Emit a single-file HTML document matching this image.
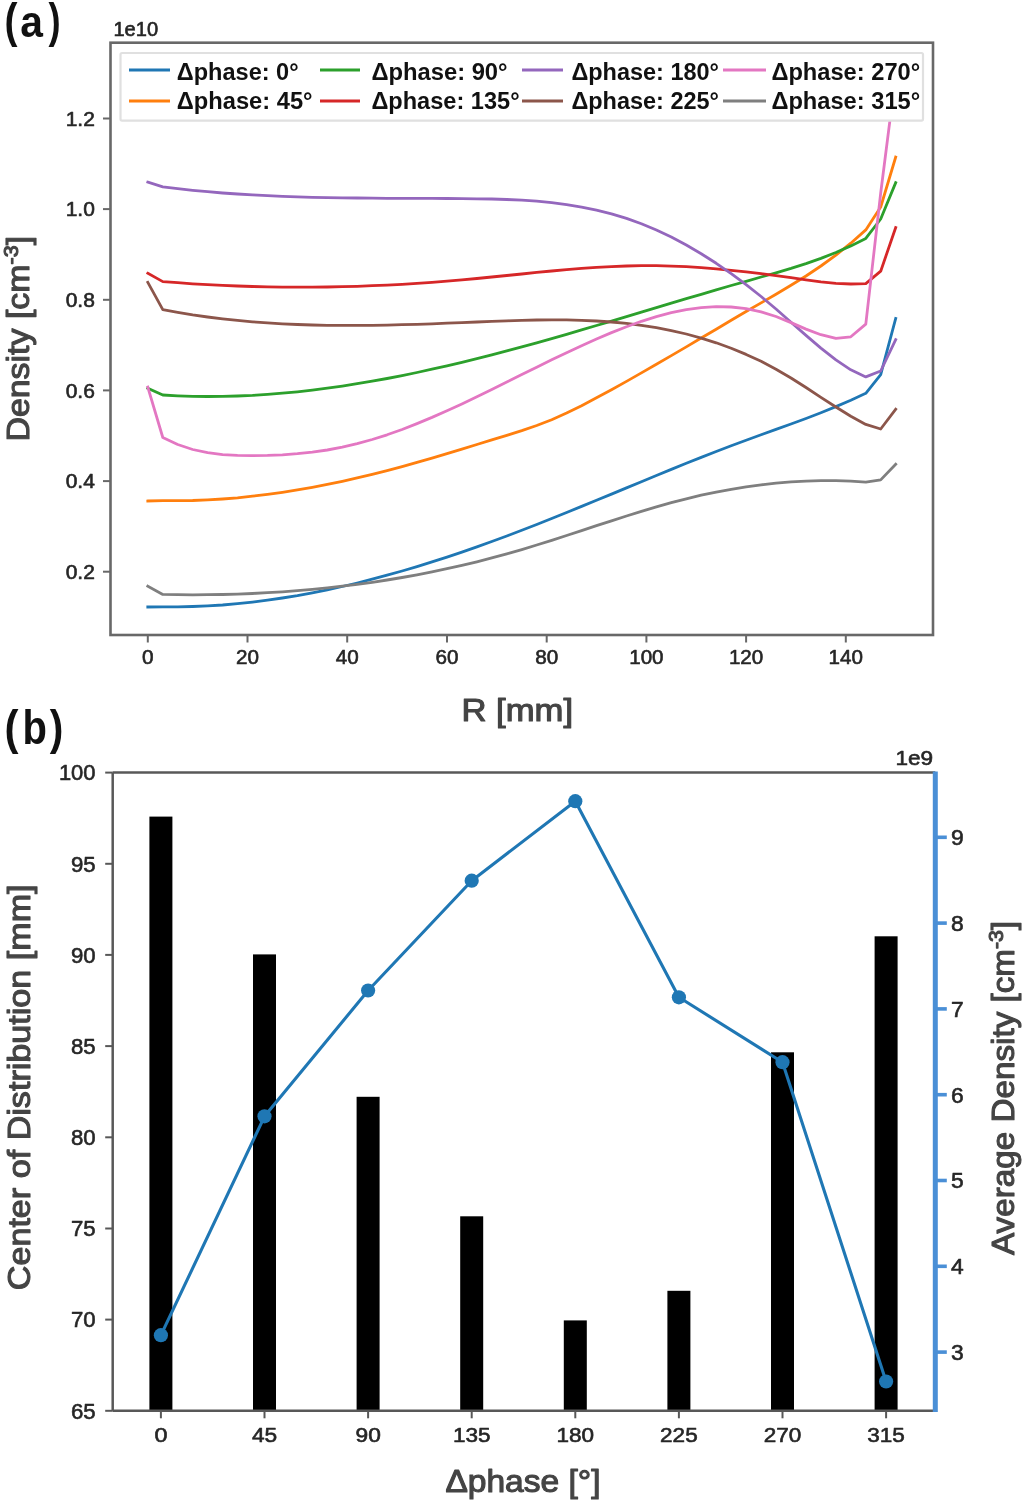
<!DOCTYPE html>
<html><head><meta charset="utf-8"><title>Figure</title>
<style>html,body{margin:0;padding:0;background:#fff;}body{width:1025px;height:1501px;position:relative;overflow:hidden;font-family:"Liberation Sans", sans-serif;}</style>
</head><body>
<svg width="1025" height="1501" viewBox="0 0 1025 1501" style="position:absolute;left:0;top:0;filter:blur(0.45px)" font-family='"Liberation Sans", sans-serif'>
<rect x="0" y="0" width="1025" height="1501" fill="#ffffff"/>
<defs><clipPath id="ca"><rect x="110.5" y="42.7" width="822.5" height="592.3"/></clipPath></defs>
<g clip-path="url(#ca)" fill="none" stroke-width="2.8" stroke-linejoin="round" stroke-linecap="square">
<polyline points="147.8,607.0 162.8,606.8 177.7,606.8 192.7,606.5 207.6,605.9 222.6,605.0 237.5,603.7 252.5,602.1 267.5,600.2 282.4,598.0 297.4,595.6 312.3,592.8 327.3,589.8 342.3,586.5 357.2,583.0 372.2,579.2 387.1,575.2 402.1,571.0 417.0,566.6 432.0,561.9 447.0,557.1 461.9,552.1 476.9,546.9 491.8,541.5 506.8,536.0 521.8,530.3 536.7,524.5 551.7,518.5 566.6,512.5 581.6,506.4 596.5,500.3 611.5,494.1 626.5,487.9 641.4,481.7 656.4,475.5 671.3,469.4 686.3,463.3 701.2,457.4 716.2,451.5 731.2,445.8 746.1,440.2 761.1,434.8 776.0,429.4 791.0,424.0 806.0,418.5 820.9,412.7 835.9,406.6 850.8,400.2 865.8,393.3 880.7,374.6 895.7,318.4" stroke="#1f77b4"/>
<polyline points="147.8,501.0 162.8,500.6 177.7,500.7 192.7,500.5 207.6,499.9 222.6,499.0 237.5,497.8 252.5,496.2 267.5,494.4 282.4,492.3 297.4,489.9 312.3,487.3 327.3,484.4 342.3,481.3 357.2,477.9 372.2,474.3 387.1,470.6 402.1,466.6 417.0,462.4 432.0,458.1 447.0,453.6 461.9,449.1 476.9,444.5 491.8,439.9 506.8,435.3 521.8,430.6 536.7,425.5 551.7,419.7 566.6,413.0 581.6,405.7 596.5,397.8 611.5,389.7 626.5,381.4 641.4,372.9 656.4,364.3 671.3,355.6 686.3,346.9 701.2,338.0 716.2,329.2 731.2,320.3 746.1,311.5 761.1,302.9 776.0,294.2 791.0,285.3 806.0,276.0 820.9,266.0 835.9,255.1 850.8,243.2 865.8,229.9 880.7,207.0 895.7,157.1" stroke="#ff7f0e"/>
<polyline points="147.8,388.2 162.8,395.0 177.7,395.8 192.7,396.3 207.6,396.5 222.6,396.4 237.5,396.0 252.5,395.4 267.5,394.4 282.4,393.2 297.4,391.8 312.3,390.1 327.3,388.2 342.3,386.1 357.2,383.7 372.2,381.2 387.1,378.5 402.1,375.6 417.0,372.5 432.0,369.2 447.0,365.8 461.9,362.3 476.9,358.6 491.8,354.8 506.8,350.9 521.8,346.9 536.7,342.8 551.7,338.6 566.6,334.3 581.6,329.9 596.5,325.5 611.5,321.1 626.5,316.6 641.4,312.2 656.4,307.7 671.3,303.2 686.3,298.7 701.2,294.3 716.2,289.9 731.2,285.5 746.1,281.3 761.1,277.0 776.0,272.8 791.0,268.4 806.0,263.6 820.9,258.4 835.9,252.5 850.8,245.9 865.8,238.4 880.7,219.0 895.7,182.7" stroke="#2ca02c"/>
<polyline points="147.8,273.3 162.8,281.6 177.7,282.7 192.7,283.8 207.6,284.6 222.6,285.4 237.5,286.0 252.5,286.5 267.5,286.8 282.4,287.1 297.4,287.2 312.3,287.1 327.3,287.0 342.3,286.7 357.2,286.3 372.2,285.7 387.1,285.1 402.1,284.3 417.0,283.4 432.0,282.3 447.0,281.2 461.9,279.9 476.9,278.5 491.8,277.0 506.8,275.5 521.8,274.0 536.7,272.4 551.7,271.0 566.6,269.7 581.6,268.4 596.5,267.4 611.5,266.6 626.5,266.0 641.4,265.7 656.4,265.7 671.3,266.1 686.3,266.7 701.2,267.6 716.2,268.8 731.2,270.3 746.1,271.9 761.1,273.7 776.0,275.6 791.0,277.7 806.0,279.9 820.9,281.8 835.9,283.3 850.8,284.0 865.8,283.6 880.7,271.2 895.7,227.5" stroke="#d62728"/>
<polyline points="147.8,182.2 162.8,186.9 177.7,188.7 192.7,190.3 207.6,191.7 222.6,193.0 237.5,194.0 252.5,194.9 267.5,195.7 282.4,196.3 297.4,196.9 312.3,197.3 327.3,197.6 342.3,197.9 357.2,198.0 372.2,198.2 387.1,198.3 402.1,198.3 417.0,198.4 432.0,198.4 447.0,198.5 461.9,198.6 476.9,198.8 491.8,199.0 506.8,199.5 521.8,200.2 536.7,201.2 551.7,202.7 566.6,204.6 581.6,207.1 596.5,210.1 611.5,213.9 626.5,218.4 641.4,223.7 656.4,230.0 671.3,237.0 686.3,245.0 701.2,253.7 716.2,263.3 731.2,273.6 746.1,284.7 761.1,296.5 776.0,309.0 791.0,322.2 806.0,335.4 820.9,348.1 835.9,359.9 850.8,369.8 865.8,376.9 880.7,371.0 895.7,339.6" stroke="#9467bd"/>
<polyline points="147.8,282.4 162.8,309.7 177.7,312.4 192.7,314.9 207.6,317.0 222.6,318.8 237.5,320.4 252.5,321.8 267.5,322.9 282.4,323.8 297.4,324.5 312.3,325.0 327.3,325.3 342.3,325.4 357.2,325.4 372.2,325.3 387.1,325.1 402.1,324.7 417.0,324.3 432.0,323.8 447.0,323.2 461.9,322.6 476.9,322.0 491.8,321.3 506.8,320.8 521.8,320.3 536.7,320.0 551.7,319.8 566.6,319.9 581.6,320.3 596.5,321.0 611.5,322.0 626.5,323.4 641.4,325.3 656.4,327.7 671.3,330.6 686.3,334.0 701.2,338.1 716.2,342.8 731.2,348.2 746.1,354.4 761.1,361.3 776.0,369.2 791.0,378.0 806.0,387.5 820.9,397.4 835.9,407.0 850.8,416.2 865.8,424.4 880.7,429.0 895.7,409.3" stroke="#8c564b"/>
<polyline points="147.8,387.1 162.8,437.5 177.7,444.5 192.7,449.5 207.6,452.7 222.6,454.6 237.5,455.4 252.5,455.6 267.5,455.4 282.4,454.8 297.4,453.7 312.3,452.1 327.3,450.0 342.3,447.2 357.2,443.7 372.2,439.5 387.1,434.8 402.1,429.5 417.0,423.6 432.0,417.4 447.0,410.8 461.9,403.9 476.9,396.8 491.8,389.5 506.8,382.1 521.8,374.6 536.7,367.2 551.7,359.8 566.6,352.7 581.6,345.7 596.5,339.0 611.5,332.6 626.5,326.7 641.4,321.3 656.4,316.6 671.3,312.7 686.3,309.7 701.2,307.6 716.2,306.7 731.2,307.0 746.1,308.7 761.1,311.8 776.0,316.5 791.0,322.6 806.0,329.1 820.9,334.7 835.9,338.4 850.8,336.8 865.8,324.1 880.7,193.0 895.7,75.0" stroke="#e377c2"/>
<polyline points="147.8,586.1 162.8,594.4 177.7,594.7 192.7,594.8 207.6,594.7 222.6,594.5 237.5,594.1 252.5,593.5 267.5,592.7 282.4,591.8 297.4,590.7 312.3,589.4 327.3,587.9 342.3,586.2 357.2,584.4 372.2,582.3 387.1,580.0 402.1,577.5 417.0,574.8 432.0,571.9 447.0,568.7 461.9,565.4 476.9,561.8 491.8,557.9 506.8,553.9 521.8,549.6 536.7,545.0 551.7,540.3 566.6,535.5 581.6,530.6 596.5,525.6 611.5,520.8 626.5,516.0 641.4,511.3 656.4,506.9 671.3,502.7 686.3,498.8 701.2,495.2 716.2,492.1 731.2,489.3 746.1,486.8 761.1,484.8 776.0,483.1 791.0,481.9 806.0,481.1 820.9,480.7 835.9,480.7 850.8,481.2 865.8,482.2 880.7,479.9 895.7,464.3" stroke="#7f7f7f"/>
</g>
<rect x="110.5" y="42.7" width="822.5" height="592.3" fill="none" stroke="#686868" stroke-width="2.6"/>
<line x1="103.0" y1="118.5" x2="110.5" y2="118.5" stroke="#686868" stroke-width="2"/>
<text x="65.7" y="125.7" font-size="20.5" fill="#262626" stroke="#262626" stroke-width="0.6" stroke-linejoin="round" textLength="29.2" lengthAdjust="spacingAndGlyphs">1.2</text>
<line x1="103.0" y1="209.1" x2="110.5" y2="209.1" stroke="#686868" stroke-width="2"/>
<text x="65.7" y="216.3" font-size="20.5" fill="#262626" stroke="#262626" stroke-width="0.6" stroke-linejoin="round" textLength="29.2" lengthAdjust="spacingAndGlyphs">1.0</text>
<line x1="103.0" y1="299.8" x2="110.5" y2="299.8" stroke="#686868" stroke-width="2"/>
<text x="65.7" y="307.0" font-size="20.5" fill="#262626" stroke="#262626" stroke-width="0.6" stroke-linejoin="round" textLength="29.2" lengthAdjust="spacingAndGlyphs">0.8</text>
<line x1="103.0" y1="390.4" x2="110.5" y2="390.4" stroke="#686868" stroke-width="2"/>
<text x="65.7" y="397.6" font-size="20.5" fill="#262626" stroke="#262626" stroke-width="0.6" stroke-linejoin="round" textLength="29.2" lengthAdjust="spacingAndGlyphs">0.6</text>
<line x1="103.0" y1="481.1" x2="110.5" y2="481.1" stroke="#686868" stroke-width="2"/>
<text x="65.7" y="488.3" font-size="20.5" fill="#262626" stroke="#262626" stroke-width="0.6" stroke-linejoin="round" textLength="29.2" lengthAdjust="spacingAndGlyphs">0.4</text>
<line x1="103.0" y1="571.7" x2="110.5" y2="571.7" stroke="#686868" stroke-width="2"/>
<text x="65.7" y="578.9" font-size="20.5" fill="#262626" stroke="#262626" stroke-width="0.6" stroke-linejoin="round" textLength="29.2" lengthAdjust="spacingAndGlyphs">0.2</text>
<line x1="147.8" y1="635.0" x2="147.8" y2="642.5" stroke="#686868" stroke-width="2"/>
<text x="142.0" y="664.0" font-size="20.5" fill="#262626" stroke="#262626" stroke-width="0.6" stroke-linejoin="round" textLength="11.6" lengthAdjust="spacingAndGlyphs">0</text>
<line x1="247.5" y1="635.0" x2="247.5" y2="642.5" stroke="#686868" stroke-width="2"/>
<text x="236.0" y="664.0" font-size="20.5" fill="#262626" stroke="#262626" stroke-width="0.6" stroke-linejoin="round" textLength="23.0" lengthAdjust="spacingAndGlyphs">20</text>
<line x1="347.2" y1="635.0" x2="347.2" y2="642.5" stroke="#686868" stroke-width="2"/>
<text x="335.7" y="664.0" font-size="20.5" fill="#262626" stroke="#262626" stroke-width="0.6" stroke-linejoin="round" textLength="23.0" lengthAdjust="spacingAndGlyphs">40</text>
<line x1="447.0" y1="635.0" x2="447.0" y2="642.5" stroke="#686868" stroke-width="2"/>
<text x="435.5" y="664.0" font-size="20.5" fill="#262626" stroke="#262626" stroke-width="0.6" stroke-linejoin="round" textLength="23.0" lengthAdjust="spacingAndGlyphs">60</text>
<line x1="546.7" y1="635.0" x2="546.7" y2="642.5" stroke="#686868" stroke-width="2"/>
<text x="535.2" y="664.0" font-size="20.5" fill="#262626" stroke="#262626" stroke-width="0.6" stroke-linejoin="round" textLength="23.0" lengthAdjust="spacingAndGlyphs">80</text>
<line x1="646.4" y1="635.0" x2="646.4" y2="642.5" stroke="#686868" stroke-width="2"/>
<text x="629.2" y="664.0" font-size="20.5" fill="#262626" stroke="#262626" stroke-width="0.6" stroke-linejoin="round" textLength="34.4" lengthAdjust="spacingAndGlyphs">100</text>
<line x1="746.1" y1="635.0" x2="746.1" y2="642.5" stroke="#686868" stroke-width="2"/>
<text x="728.9" y="664.0" font-size="20.5" fill="#262626" stroke="#262626" stroke-width="0.6" stroke-linejoin="round" textLength="34.4" lengthAdjust="spacingAndGlyphs">120</text>
<line x1="845.8" y1="635.0" x2="845.8" y2="642.5" stroke="#686868" stroke-width="2"/>
<text x="828.6" y="664.0" font-size="20.5" fill="#262626" stroke="#262626" stroke-width="0.6" stroke-linejoin="round" textLength="34.4" lengthAdjust="spacingAndGlyphs">140</text>
<text x="113.4" y="36.0" font-size="19.5" fill="#262626" stroke="#262626" stroke-width="0.6" stroke-linejoin="round" textLength="44.7" lengthAdjust="spacingAndGlyphs">1e10</text>
<text x="0" y="0" font-size="31.5" fill="#444" stroke="#444" stroke-width="1.1" stroke-linejoin="round" textLength="205.7" lengthAdjust="spacingAndGlyphs" transform="translate(29.2,441.6) rotate(-90)">Density [cm<tspan font-size="20" dy="-11">-3</tspan><tspan dy="11">]</tspan></text>
<text x="461.4" y="720.6" font-size="31.5" fill="#444" stroke="#444" stroke-width="1.1" stroke-linejoin="round" textLength="111.7" lengthAdjust="spacingAndGlyphs">R [mm]</text>
<g font-weight="bold" fill="#111">
<text x="4.5" y="37.3" font-size="48" fill="#111" textLength="13.0" lengthAdjust="spacingAndGlyphs">(</text>
<text x="20.3" y="37.3" font-size="43.5" fill="#111" textLength="22.7" lengthAdjust="spacingAndGlyphs">a</text>
<text x="48.4" y="37.3" font-size="48" fill="#111" textLength="12.1" lengthAdjust="spacingAndGlyphs">)</text>
</g>
<rect x="120.5" y="53" width="802.5" height="67.6" rx="1.5" fill="#ffffff" stroke="#e0e0e0" stroke-width="2.2"/>
<line x1="129" y1="70" x2="170" y2="70" stroke="#1f77b4" stroke-width="3"/>
<text x="176.8" y="80.0" font-size="23" fill="#111" font-weight="bold" textLength="121.8" lengthAdjust="spacingAndGlyphs">Δphase: 0°</text>
<line x1="129" y1="101" x2="170" y2="101" stroke="#ff7f0e" stroke-width="3"/>
<text x="176.8" y="108.6" font-size="23" fill="#111" font-weight="bold" textLength="135.8" lengthAdjust="spacingAndGlyphs">Δphase: 45°</text>
<line x1="320" y1="70" x2="360" y2="70" stroke="#2ca02c" stroke-width="3"/>
<text x="371.4" y="80.0" font-size="23" fill="#111" font-weight="bold" textLength="136.2" lengthAdjust="spacingAndGlyphs">Δphase: 90°</text>
<line x1="320" y1="101" x2="360" y2="101" stroke="#d62728" stroke-width="3"/>
<text x="371.4" y="108.6" font-size="23" fill="#111" font-weight="bold" textLength="148.2" lengthAdjust="spacingAndGlyphs">Δphase: 135°</text>
<line x1="522" y1="70" x2="563" y2="70" stroke="#9467bd" stroke-width="3"/>
<text x="571.4" y="80.0" font-size="23" fill="#111" font-weight="bold" textLength="147.6" lengthAdjust="spacingAndGlyphs">Δphase: 180°</text>
<line x1="522" y1="101" x2="563" y2="101" stroke="#8c564b" stroke-width="3"/>
<text x="571.4" y="108.6" font-size="23" fill="#111" font-weight="bold" textLength="147.6" lengthAdjust="spacingAndGlyphs">Δphase: 225°</text>
<line x1="723" y1="70" x2="766" y2="70" stroke="#e377c2" stroke-width="3"/>
<text x="771.4" y="80.0" font-size="23" fill="#111" font-weight="bold" textLength="148.8" lengthAdjust="spacingAndGlyphs">Δphase: 270°</text>
<line x1="723" y1="101" x2="766" y2="101" stroke="#7f7f7f" stroke-width="3"/>
<text x="771.4" y="108.6" font-size="23" fill="#111" font-weight="bold" textLength="148.8" lengthAdjust="spacingAndGlyphs">Δphase: 315°</text>
<rect x="149.4" y="816.6" width="23" height="594.2" fill="#000"/>
<rect x="253.0" y="954.4" width="23" height="456.4" fill="#000"/>
<rect x="356.6" y="1096.8" width="23" height="314.0" fill="#000"/>
<rect x="460.2" y="1216.3" width="23" height="194.5" fill="#000"/>
<rect x="563.8" y="1320.4" width="23" height="90.4" fill="#000"/>
<rect x="667.4" y="1290.8" width="23" height="120.0" fill="#000"/>
<rect x="771.0" y="1052.3" width="23" height="358.5" fill="#000"/>
<rect x="874.6" y="936.3" width="23" height="474.5" fill="#000"/>
<polyline points="160.95,1335.2 264.53999999999996,1116.3 368.13,990.5 471.71999999999997,880.7 575.31,801.2 678.9000000000001,997.3 782.49,1062.2 886.0799999999999,1381.5" fill="none" stroke="#1f77b4" stroke-width="3.1" stroke-linejoin="round"/>
<circle cx="160.9" cy="1335.2" r="7.1" fill="#1f77b4"/>
<circle cx="264.5" cy="1116.3" r="7.1" fill="#1f77b4"/>
<circle cx="368.1" cy="990.5" r="7.1" fill="#1f77b4"/>
<circle cx="471.7" cy="880.7" r="7.1" fill="#1f77b4"/>
<circle cx="575.3" cy="801.2" r="7.1" fill="#1f77b4"/>
<circle cx="678.9" cy="997.3" r="7.1" fill="#1f77b4"/>
<circle cx="782.5" cy="1062.2" r="7.1" fill="#1f77b4"/>
<circle cx="886.1" cy="1381.5" r="7.1" fill="#1f77b4"/>
<line x1="112.7" y1="772.6" x2="935.3" y2="772.6" stroke="#585858" stroke-width="2.5"/>
<line x1="112.7" y1="1410.8" x2="935.3" y2="1410.8" stroke="#585858" stroke-width="2.6"/>
<line x1="112.7" y1="772.6" x2="112.7" y2="1410.8" stroke="#585858" stroke-width="2.5"/>
<line x1="935.3" y1="771.4" x2="935.3" y2="1412.0" stroke="#4a8fd6" stroke-width="5"/>
<line x1="105.2" y1="1410.8" x2="112.7" y2="1410.8" stroke="#585858" stroke-width="2"/>
<text x="70.9" y="1418.6" font-size="22" fill="#262626" stroke="#262626" stroke-width="0.6" stroke-linejoin="round" textLength="24.7" lengthAdjust="spacingAndGlyphs">65</text>
<line x1="105.2" y1="1319.6" x2="112.7" y2="1319.6" stroke="#585858" stroke-width="2"/>
<text x="70.9" y="1327.4" font-size="22" fill="#262626" stroke="#262626" stroke-width="0.6" stroke-linejoin="round" textLength="24.7" lengthAdjust="spacingAndGlyphs">70</text>
<line x1="105.2" y1="1228.5" x2="112.7" y2="1228.5" stroke="#585858" stroke-width="2"/>
<text x="70.9" y="1236.2" font-size="22" fill="#262626" stroke="#262626" stroke-width="0.6" stroke-linejoin="round" textLength="24.7" lengthAdjust="spacingAndGlyphs">75</text>
<line x1="105.2" y1="1137.3" x2="112.7" y2="1137.3" stroke="#585858" stroke-width="2"/>
<text x="70.9" y="1145.1" font-size="22" fill="#262626" stroke="#262626" stroke-width="0.6" stroke-linejoin="round" textLength="24.7" lengthAdjust="spacingAndGlyphs">80</text>
<line x1="105.2" y1="1046.1" x2="112.7" y2="1046.1" stroke="#585858" stroke-width="2"/>
<text x="70.9" y="1053.9" font-size="22" fill="#262626" stroke="#262626" stroke-width="0.6" stroke-linejoin="round" textLength="24.7" lengthAdjust="spacingAndGlyphs">85</text>
<line x1="105.2" y1="954.9" x2="112.7" y2="954.9" stroke="#585858" stroke-width="2"/>
<text x="70.9" y="962.7" font-size="22" fill="#262626" stroke="#262626" stroke-width="0.6" stroke-linejoin="round" textLength="24.7" lengthAdjust="spacingAndGlyphs">90</text>
<line x1="105.2" y1="863.8" x2="112.7" y2="863.8" stroke="#585858" stroke-width="2"/>
<text x="70.9" y="871.6" font-size="22" fill="#262626" stroke="#262626" stroke-width="0.6" stroke-linejoin="round" textLength="24.7" lengthAdjust="spacingAndGlyphs">95</text>
<line x1="105.2" y1="772.6" x2="112.7" y2="772.6" stroke="#585858" stroke-width="2"/>
<text x="58.9" y="780.4" font-size="22" fill="#262626" stroke="#262626" stroke-width="0.6" stroke-linejoin="round" textLength="36.7" lengthAdjust="spacingAndGlyphs">100</text>
<line x1="935.3" y1="1352.1" x2="946.8" y2="1352.1" stroke="#4a8fd6" stroke-width="3.6"/>
<text x="950.9" y="1359.9" font-size="22" fill="#262626" stroke="#262626" stroke-width="0.6" stroke-linejoin="round" textLength="12.7" lengthAdjust="spacingAndGlyphs">3</text>
<line x1="935.3" y1="1266.3" x2="946.8" y2="1266.3" stroke="#4a8fd6" stroke-width="3.6"/>
<text x="950.9" y="1274.1" font-size="22" fill="#262626" stroke="#262626" stroke-width="0.6" stroke-linejoin="round" textLength="12.7" lengthAdjust="spacingAndGlyphs">4</text>
<line x1="935.3" y1="1180.5" x2="946.8" y2="1180.5" stroke="#4a8fd6" stroke-width="3.6"/>
<text x="950.9" y="1188.3" font-size="22" fill="#262626" stroke="#262626" stroke-width="0.6" stroke-linejoin="round" textLength="12.7" lengthAdjust="spacingAndGlyphs">5</text>
<line x1="935.3" y1="1094.7" x2="946.8" y2="1094.7" stroke="#4a8fd6" stroke-width="3.6"/>
<text x="950.9" y="1102.5" font-size="22" fill="#262626" stroke="#262626" stroke-width="0.6" stroke-linejoin="round" textLength="12.7" lengthAdjust="spacingAndGlyphs">6</text>
<line x1="935.3" y1="1008.9" x2="946.8" y2="1008.9" stroke="#4a8fd6" stroke-width="3.6"/>
<text x="950.9" y="1016.7" font-size="22" fill="#262626" stroke="#262626" stroke-width="0.6" stroke-linejoin="round" textLength="12.7" lengthAdjust="spacingAndGlyphs">7</text>
<line x1="935.3" y1="923.1" x2="946.8" y2="923.1" stroke="#4a8fd6" stroke-width="3.6"/>
<text x="950.9" y="930.9" font-size="22" fill="#262626" stroke="#262626" stroke-width="0.6" stroke-linejoin="round" textLength="12.7" lengthAdjust="spacingAndGlyphs">8</text>
<line x1="935.3" y1="837.3" x2="946.8" y2="837.3" stroke="#4a8fd6" stroke-width="3.6"/>
<text x="950.9" y="845.1" font-size="22" fill="#262626" stroke="#262626" stroke-width="0.6" stroke-linejoin="round" textLength="12.7" lengthAdjust="spacingAndGlyphs">9</text>
<line x1="160.9" y1="1410.8" x2="160.9" y2="1418.3" stroke="#585858" stroke-width="2"/>
<text x="154.4" y="1441.5" font-size="20.5" fill="#262626" stroke="#262626" stroke-width="0.6" stroke-linejoin="round" textLength="13.0" lengthAdjust="spacingAndGlyphs">0</text>
<line x1="264.5" y1="1410.8" x2="264.5" y2="1418.3" stroke="#585858" stroke-width="2"/>
<text x="251.9" y="1441.5" font-size="20.5" fill="#262626" stroke="#262626" stroke-width="0.6" stroke-linejoin="round" textLength="25.3" lengthAdjust="spacingAndGlyphs">45</text>
<line x1="368.1" y1="1410.8" x2="368.1" y2="1418.3" stroke="#585858" stroke-width="2"/>
<text x="355.5" y="1441.5" font-size="20.5" fill="#262626" stroke="#262626" stroke-width="0.6" stroke-linejoin="round" textLength="25.3" lengthAdjust="spacingAndGlyphs">90</text>
<line x1="471.7" y1="1410.8" x2="471.7" y2="1418.3" stroke="#585858" stroke-width="2"/>
<text x="452.9" y="1441.5" font-size="20.5" fill="#262626" stroke="#262626" stroke-width="0.6" stroke-linejoin="round" textLength="37.6" lengthAdjust="spacingAndGlyphs">135</text>
<line x1="575.3" y1="1410.8" x2="575.3" y2="1418.3" stroke="#585858" stroke-width="2"/>
<text x="556.5" y="1441.5" font-size="20.5" fill="#262626" stroke="#262626" stroke-width="0.6" stroke-linejoin="round" textLength="37.6" lengthAdjust="spacingAndGlyphs">180</text>
<line x1="678.9" y1="1410.8" x2="678.9" y2="1418.3" stroke="#585858" stroke-width="2"/>
<text x="660.1" y="1441.5" font-size="20.5" fill="#262626" stroke="#262626" stroke-width="0.6" stroke-linejoin="round" textLength="37.6" lengthAdjust="spacingAndGlyphs">225</text>
<line x1="782.5" y1="1410.8" x2="782.5" y2="1418.3" stroke="#585858" stroke-width="2"/>
<text x="763.7" y="1441.5" font-size="20.5" fill="#262626" stroke="#262626" stroke-width="0.6" stroke-linejoin="round" textLength="37.6" lengthAdjust="spacingAndGlyphs">270</text>
<line x1="886.1" y1="1410.8" x2="886.1" y2="1418.3" stroke="#585858" stroke-width="2"/>
<text x="867.3" y="1441.5" font-size="20.5" fill="#262626" stroke="#262626" stroke-width="0.6" stroke-linejoin="round" textLength="37.6" lengthAdjust="spacingAndGlyphs">315</text>
<text x="895.4" y="764.8" font-size="20.5" fill="#262626" stroke="#262626" stroke-width="0.6" stroke-linejoin="round" textLength="37.7" lengthAdjust="spacingAndGlyphs">1e9</text>
<text x="445.4" y="1491.9" font-size="31.5" fill="#444" stroke="#444" stroke-width="1.1" stroke-linejoin="round" textLength="155.2" lengthAdjust="spacingAndGlyphs">Δphase [°]</text>
<text x="0" y="0" font-size="31.5" fill="#444" stroke="#444" stroke-width="1.1" stroke-linejoin="round" textLength="405.8" lengthAdjust="spacingAndGlyphs" transform="translate(29.6,1290.2) rotate(-90)">Center of Distribution [mm]</text>
<text x="0" y="0" font-size="31.5" fill="#444" stroke="#444" stroke-width="1.1" stroke-linejoin="round" textLength="334.1" lengthAdjust="spacingAndGlyphs" transform="translate(1013.6,1255.0) rotate(-90)">Average Density [cm<tspan font-size="20" dy="-11">-3</tspan><tspan dy="11">]</tspan></text>
<g font-weight="bold" fill="#111">
<text x="4.5" y="744.0" font-size="48" fill="#111" textLength="14.0" lengthAdjust="spacingAndGlyphs">(</text>
<text x="22.4" y="744.0" font-size="49" fill="#111" textLength="24.4" lengthAdjust="spacingAndGlyphs">b</text>
<text x="49.8" y="744.0" font-size="48" fill="#111" textLength="13.6" lengthAdjust="spacingAndGlyphs">)</text>
</g>
</svg>
</body></html>
